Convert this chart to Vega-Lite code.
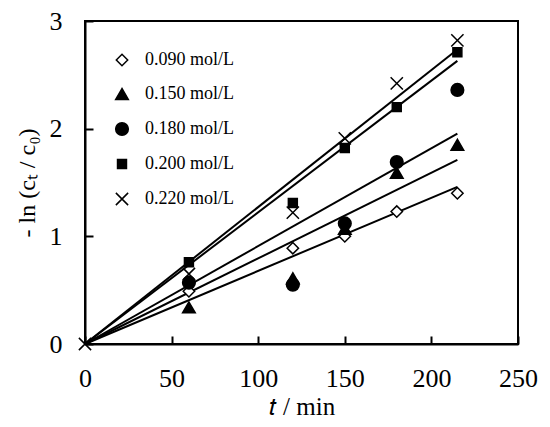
{
  "$schema": "https://vega.github.io/schema/vega-lite/v6.json",
  "autosize": "none",
  "width": 433,
  "height": 323,
  "padding": {"left": 85, "top": 21, "right": 32, "bottom": 83},
  "background": "white",
  "config": {
    "view": {"stroke": "black", "strokeWidth": 2},
    "font": "Liberation Serif"
  },
  "datasets": {
    "points": [
      {"conc": "0.090 mol/L", "t": 60, "y": 0.49},
      {"conc": "0.090 mol/L", "t": 120, "y": 0.89},
      {"conc": "0.090 mol/L", "t": 150, "y": 1.0},
      {"conc": "0.090 mol/L", "t": 180, "y": 1.23},
      {"conc": "0.090 mol/L", "t": 215, "y": 1.4},
      {"conc": "0.150 mol/L", "t": 60, "y": 0.34},
      {"conc": "0.150 mol/L", "t": 120, "y": 0.61},
      {"conc": "0.150 mol/L", "t": 150, "y": 1.07},
      {"conc": "0.150 mol/L", "t": 180, "y": 1.59},
      {"conc": "0.150 mol/L", "t": 215, "y": 1.85},
      {"conc": "0.180 mol/L", "t": 60, "y": 0.57},
      {"conc": "0.180 mol/L", "t": 120, "y": 0.55},
      {"conc": "0.180 mol/L", "t": 150, "y": 1.12},
      {"conc": "0.180 mol/L", "t": 180, "y": 1.69},
      {"conc": "0.180 mol/L", "t": 215, "y": 2.36},
      {"conc": "0.200 mol/L", "t": 60, "y": 0.76},
      {"conc": "0.200 mol/L", "t": 120, "y": 1.31},
      {"conc": "0.200 mol/L", "t": 150, "y": 1.82},
      {"conc": "0.200 mol/L", "t": 180, "y": 2.2},
      {"conc": "0.200 mol/L", "t": 215, "y": 2.71},
      {"conc": "0.220 mol/L", "t": 0, "y": 0},
      {"conc": "0.220 mol/L", "t": 60, "y": 0.65},
      {"conc": "0.220 mol/L", "t": 120, "y": 1.22},
      {"conc": "0.220 mol/L", "t": 150, "y": 1.91},
      {"conc": "0.220 mol/L", "t": 180, "y": 2.42},
      {"conc": "0.220 mol/L", "t": 215, "y": 2.82}
    ],
    "fits": [
      {"conc": "0.090 mol/L", "t": 0, "y": 0},
      {"conc": "0.090 mol/L", "t": 215, "y": 1.46},
      {"conc": "0.150 mol/L", "t": 0, "y": 0},
      {"conc": "0.150 mol/L", "t": 215, "y": 1.71},
      {"conc": "0.180 mol/L", "t": 0, "y": 0},
      {"conc": "0.180 mol/L", "t": 215, "y": 1.955},
      {"conc": "0.200 mol/L", "t": 0, "y": 0},
      {"conc": "0.200 mol/L", "t": 215, "y": 2.63},
      {"conc": "0.220 mol/L", "t": 0, "y": 0},
      {"conc": "0.220 mol/L", "t": 215, "y": 2.735}
    ]
  },
  "encoding": {
    "x": {
      "field": "t",
      "type": "quantitative",
      "scale": {"domain": [0, 250], "nice": false},
      "axis": {
        "title": "𝑡 / min",
        "values": [0, 50, 100, 150, 200, 250],
        "grid": false,
        "domainColor": "black",
        "domainWidth": 2,
        "tickColor": "black",
        "tickWidth": 2,
        "tickSize": -8,
        "labelPadding": 29,
        "labelFont": "Liberation Serif",
        "labelFontSize": 26,
        "labelColor": "black",
        "labelFlush": false,
        "titleFont": "Liberation Serif",
        "titleFontSize": 25,
        "titleFontWeight": "normal",
        "titleColor": "black",
        "titlePadding": 3
      }
    },
    "y": {
      "field": "y",
      "type": "quantitative",
      "scale": {"domain": [0, 3], "nice": false},
      "axis": {
        "title": "- ln (cₜ / c₀)",
        "values": [0, 1, 2, 3],
        "grid": false,
        "domainColor": "black",
        "domainWidth": 2,
        "tickColor": "black",
        "tickWidth": 2,
        "tickSize": -8,
        "labelPadding": 31,
        "labelFont": "Liberation Serif",
        "labelFontSize": 26,
        "labelColor": "black",
        "labelFlush": false,
        "titleFont": "Liberation Serif",
        "titleFontSize": 24,
        "titleFontWeight": "normal",
        "titleColor": "black",
        "titlePadding": 10
      }
    }
  },
  "layer": [
    {
      "data": {"name": "fits"},
      "mark": {"type": "line", "color": "black", "strokeWidth": 2},
      "encoding": {"detail": {"field": "conc", "type": "nominal"}}
    },
    {
      "data": {"name": "points"},
      "mark": {"type": "point", "filled": false, "stroke": "black", "strokeWidth": 1.5, "opacity": 1, "clip": false},
      "encoding": {
        "shape": {
          "field": "conc",
          "type": "nominal",
          "title": null,
          "scale": {
            "domain": ["0.090 mol/L", "0.150 mol/L", "0.180 mol/L", "0.200 mol/L", "0.220 mol/L"],
            "range": ["diamond", "triangle-up", "circle", "square", "M-1,-1L1,1M-1,1L1,-1"]
          },
          "legend": {
            "orient": "none",
            "legendX": 28,
            "legendY": 30,
            "labelFont": "Liberation Serif",
            "labelFontSize": 18,
            "labelColor": "black",
            "labelOffset": 14,
            "rowPadding": 16,
            "symbolStrokeColor": "black",
            "symbolStrokeWidth": 1.5
          }
        },
        "fill": {
          "field": "conc",
          "type": "nominal",
          "title": null,
          "scale": {
            "domain": ["0.090 mol/L", "0.150 mol/L", "0.180 mol/L", "0.200 mol/L", "0.220 mol/L"],
            "range": ["white", "black", "black", "black", "transparent"]
          }
        },
        "size": {
          "field": "conc",
          "type": "nominal",
          "title": null,
          "scale": {
            "type": "ordinal",
            "domain": ["0.090 mol/L", "0.150 mol/L", "0.180 mol/L", "0.200 mol/L", "0.220 mol/L"],
            "range": [130, 160, 160, 80, 150]
          }
        }
      }
    }
  ]
}
